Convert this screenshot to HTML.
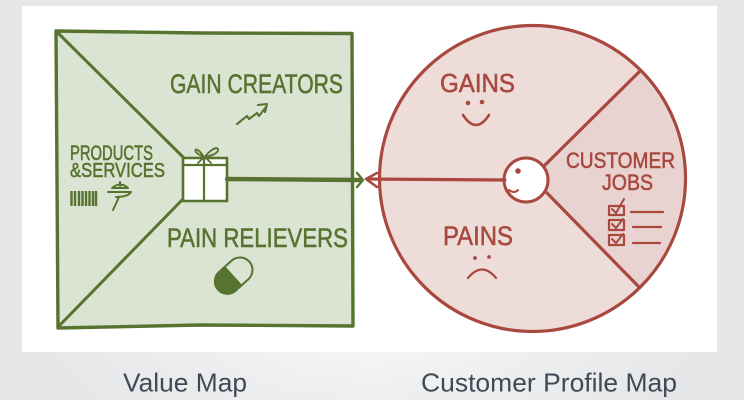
<!DOCTYPE html>
<html><head><meta charset="utf-8">
<style>
html,body{margin:0;padding:0;width:744px;height:400px;overflow:hidden;background:#e6e7e9}
svg{display:block}
text{font-family:"Liberation Sans",sans-serif}
</style></head>
<body>
<svg width="744" height="400" viewBox="0 0 744 400" xmlns="http://www.w3.org/2000/svg">
<defs>
<radialGradient id="bg" gradientUnits="userSpaceOnUse" cx="372" cy="345" r="340" gradientTransform="translate(0 230) scale(1 .33)">
<stop offset="0" stop-color="#f6f6f7"/><stop offset="1" stop-color="#e5e6e8"/>
</radialGradient>
</defs>
<rect width="744" height="400" fill="#e6e7e9"/>
<rect y="340" width="744" height="60" fill="url(#bg)"/>
<rect x="22" y="6" width="695" height="346" fill="#fff"/>

<!-- Value map -->
<g stroke="#56732f" fill="none" stroke-linecap="round" stroke-linejoin="round">
<path d="M56 31 L200 33 L352 33.500 L353 326 L200 325 L58 328 L57 180 Z" fill="#dbe3d2" stroke-width="3.4"/>
<path d="M57 32 L183 157 M58 327 L183 199" stroke-width="3"/>
<rect x="183" y="158" width="44" height="43" fill="#fff" stroke-width="2.6"/>
<path d="M183 165 L227 165 M204 158 L204 201" stroke-width="2.2"/>
<path d="M204 157 C198 148 194 148 196 152 C198 155 202 156 205 157 C208 152 216 146 218 149 C219 153 211 156 205 157 M204 157 L198 163 M205 157 L211 163" stroke-width="1.9"/>
<path d="M227 179 L359 180" stroke-width="4.4"/>
<path d="M357 173 L363 180 L357 187" stroke-width="2.4"/>
<path d="M237 124 L247 116 L249 119 L257 113 L259 116 L266 107 M258 105 L267 104 L265 112" stroke-width="2.1"/>
<path d="M112 188 Q120 181 128 188 Z M108 192 L131 192 Q128 197 116 197 M119 197 L113 210 M120 186 L120 182" stroke-width="2"/>
</g>
<path d="M71.500 191 v15 M75 191 v15 M79 191 v15 M82.500 191 v15 M86 191 v15 M89.500 191 v15 M93 191 v15 M96 191 v15" stroke="#56732f" stroke-width="2.400"/>
<g transform="rotate(-42 234 276)">
<rect x="213" y="263" width="42" height="25" rx="12.500" fill="#dbe3d2" stroke="#56732f" stroke-width="2"/>
<path d="M225 263 H234 V288 H225 A12.500 12.500 0 0 1 225 263 Z" fill="#56732f"/>
</g>
<g fill="#56732f" stroke="#56732f" stroke-width=".55">
<text x="170" y="93" font-size="27" textLength="173" lengthAdjust="spacingAndGlyphs">GAIN CREATORS</text>
<text x="70" y="160" font-size="21" textLength="83" lengthAdjust="spacingAndGlyphs">PRODUCTS</text>
<text x="70" y="177" font-size="20" textLength="95" lengthAdjust="spacingAndGlyphs">&amp;SERVICES</text>
<text x="167" y="247" font-size="27" textLength="181" lengthAdjust="spacingAndGlyphs">PAIN RELIEVERS</text>
</g>

<!-- Customer profile -->
<g stroke="#a8483f" fill="none" stroke-linecap="round" stroke-linejoin="round">
<circle cx="532.5" cy="178.5" r="153" fill="#eedcd9" stroke="none"/>
<path d="M639 72 A153 153 0 0 1 639 287 L547 193 L545 165 Z" fill="#e8d3d0" stroke="none"/>
<circle cx="532.5" cy="178.5" r="153" stroke-width="3.2"/>
<path d="M545 165 L639 72 M547 193 L639 287" stroke-width="3.2"/>
<circle cx="526" cy="180" r="22" fill="#fff" stroke-width="3"/>
<path d="M505 180 L367 179" stroke-width="3.2"/>
<path d="M377 173 L366 179 L377 187" stroke-width="2.6"/>
<path d="M509 190 Q514 194 518 190" stroke-width="2"/>
<path d="M463 115 Q476 135 489 115" stroke-width="2.6"/>
<path d="M468 278 Q482 261 496 278" stroke-width="2.2"/>
<path d="M631 212 H663 M633 227 H661 M633 243 H660" stroke-width="2.2"/>
<path d="M609 206 H624 V215 H609 Z M609 220 H624 V230 H609 Z M609 235 H624 V245 H609 Z" stroke-width="2.2"/>
<path d="M612 209 L616 213 L624 199 M612 224 L616 228 L623 219 M612 239 L616 243 L623 234" stroke-width="2"/>
</g>
<g fill="#a8483f">
<circle cx="518" cy="171" r="2.800"/>
<circle cx="468" cy="103" r="2.300"/><circle cx="482" cy="102" r="2.300"/>
<circle cx="475" cy="258" r="1.900"/><circle cx="489" cy="257" r="1.900"/>
</g>
<g fill="#a8483f" stroke="#a8483f" stroke-width=".55">
<text x="440" y="92" font-size="26" textLength="75" lengthAdjust="spacingAndGlyphs">GAINS</text>
<text x="566" y="168" font-size="22" textLength="109" lengthAdjust="spacingAndGlyphs">CUSTOMER</text>
<text x="602" y="190" font-size="22" textLength="51" lengthAdjust="spacingAndGlyphs">JOBS</text>
<text x="443" y="245" font-size="27" textLength="70" lengthAdjust="spacingAndGlyphs">PAINS</text>
</g>

<!-- Captions -->
<g fill="#3f4a57" font-size="26">
<text x="123" y="391.500" textLength="124" lengthAdjust="spacingAndGlyphs">Value Map</text>
<text x="421" y="391.500" textLength="256" lengthAdjust="spacingAndGlyphs">Customer Profile Map</text>
</g>
</svg>
</body></html>
